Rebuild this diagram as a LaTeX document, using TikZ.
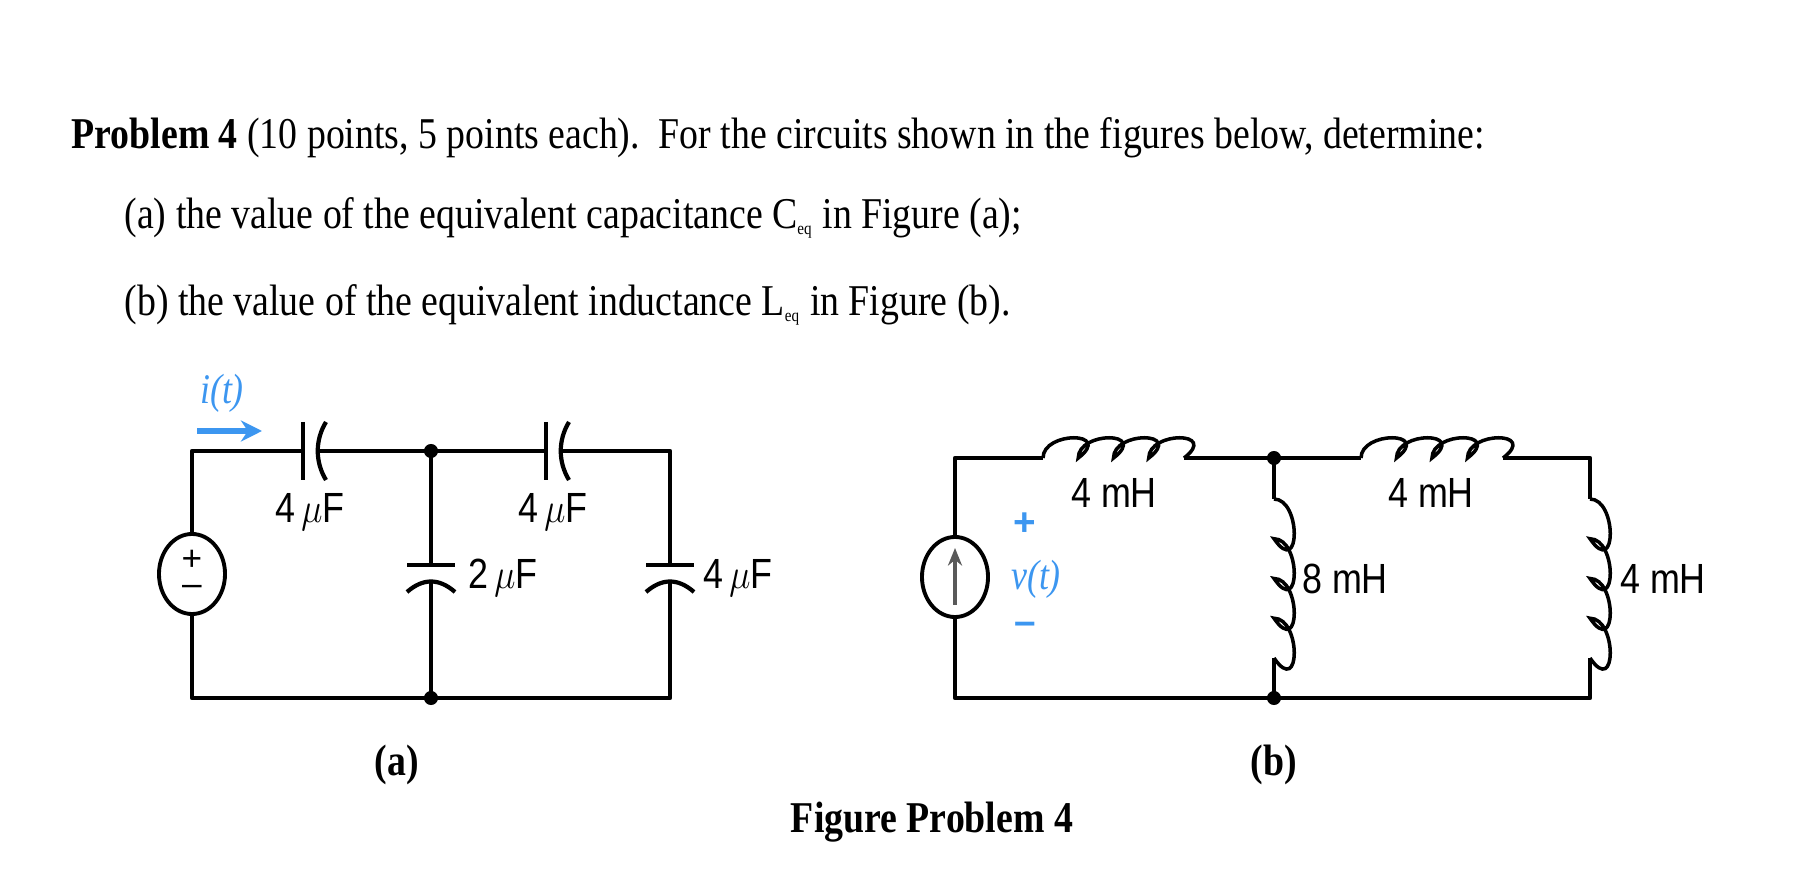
\documentclass[tikz,border=0pt]{standalone}
\usepackage{fontspec}
\setmainfont{Liberation Serif}
\newfontfamily\lsans{Liberation Sans}
\usetikzlibrary{arrows.meta,shapes.geometric}
\definecolor{iblue}{RGB}{60,150,240}
\begin{document}
\begin{tikzpicture}[x=0.01cm,y=-0.01cm,
  wire/.style={line width=1.2pt,line join=round},
  dot/.style={circle,fill=black,inner sep=0pt,minimum size=4pt},
  lab/.style={font=\lsans\fontsize{12}{12}\selectfont,xscale=0.85,inner sep=0pt},
  txt/.style={font=\fontsize{12.5}{14}\selectfont,inner sep=0pt,anchor=west,xscale=0.86},
  src/.style={draw,ellipse,line width=1.1pt,inner sep=0pt,minimum width=0.66cm,minimum height=0.80cm},
  cur/.style={iblue}]
\useasboundingbox (0,0) rectangle (1804,880);
% ---------- text ----------
\node[txt] (t1) at (71,138) {\textbf{Problem 4} (10 points, 5 points each).\ \ For the circuits shown in the figures below, determine:};
\node[txt] (t2) at (124,218) {(a) the value of the equivalent capacitance C\textsubscript{\tiny eq} in Figure (a);};
\node[txt] (t3) at (124,305) {(b) the value of the equivalent inductance L\textsubscript{\tiny eq} in Figure (b).};
\node[font=\fontsize{12.5}{14}\selectfont\bfseries,xscale=0.86] (ca) at (397,765) {(a)};
\node[font=\fontsize{12.5}{14}\selectfont\bfseries,xscale=0.86] (cb) at (1274,765) {(b)};
\node[font=\fontsize{12.5}{14}\selectfont\bfseries,xscale=0.86] (cap) at (932,822) {Figure Problem 4};
% ---------- circuit (a) ----------
\coordinate (aTL) at (192,451); \coordinate (aBL) at (192,698);
\coordinate (aTM) at (431,451); \coordinate (aBM) at (431,698);
\coordinate (aTR) at (670,451); \coordinate (aBR) at (670,698);
\node[src] (vs) at (192,574) {};
\node[font=\lsans\fontsize{10}{10}\selectfont] at (192,560) {+};
\node[font=\lsans\fontsize{10}{10}\selectfont] at (192,590) {\textendash};
\draw[wire] (vs.north) -- (aTL) -- (303,451);
\draw[wire] (303,422) -- (303,480);
\draw[wire] (326,422) .. controls (315,440) and (315,462) .. (326,480);
\draw[wire] (319,451) -- (aTM) -- (546,451);
\draw[wire] (546,422) -- (546,480);
\draw[wire] (569,422) .. controls (558,440) and (558,462) .. (569,480);
\draw[wire] (562,451) -- (aTR) -- (670,565);
\draw[wire] (646,565) -- (694,565);
\draw[wire] (646,592) .. controls (662,578) and (678,578) .. (694,592);
\draw[wire] (670,583) -- (aBR) -- (aBL) -- (vs.south);
\draw[wire] (aTM) -- (431,565);
\draw[wire] (407,565) -- (455,565);
\draw[wire] (407,592) .. controls (423,578) and (439,578) .. (455,592);
\draw[wire] (431,583) -- (aBM);
\node[dot] at (aTM) {}; \node[dot] at (aBM) {};
\node[lab] at (310,512) {4\,$\mu$F};
\node[lab] at (553,512) {4\,$\mu$F};
\node[lab] at (503,578) {2\,$\mu$F};
\node[lab] at (738,578) {4\,$\mu$F};
\node[cur,font=\fontsize{12}{12}\selectfont\itshape,xscale=0.85] (it) at (222,393) {i(t)};
\coordinate (ia) at (197,431); \coordinate (ib) at (262,431);
\draw[cur,line width=1.6pt,-{Stealth[length=6pt,width=6pt]}] (ia) -- (ib);
% ---------- circuit (b) ----------
\coordinate (bTL) at (955,458); \coordinate (bBL) at (955,698);
\coordinate (bTM) at (1274,458); \coordinate (bBM) at (1274,698);
\coordinate (bTR) at (1590,458); \coordinate (bBR) at (1590,698);
\node[src] (is) at (955,577) {};
\draw[gray!70!black,line width=1pt,-{Stealth[length=5pt,width=4pt]}] (955,605) -- (955,548);
\draw[wire] (is.north) -- (bTL) -- (1043,458);
\draw[line width=1pt] (1043,458) foreach \k in {0,...,3} { .. controls ++(0,-27) and ++(35.25,-27) .. ++(35.25,0) };
\draw[wire] (1184,458) -- (bTM) -- (1361,458);
\draw[line width=1pt] (1361,458) foreach \k in {0,...,3} { .. controls ++(0,-27) and ++(35.5,-27) .. ++(35.5,0) };
\draw[wire] (1503,458) -- (bTR) -- (1590,499);
\draw[line width=1pt] (1590,499) foreach \k in {0,...,3} { .. controls ++(27,0) and ++(27,39.75) .. ++(0,39.75) };
\draw[wire] (1590,658) -- (bBR) -- (bBL) -- (is.south);
\draw[wire] (bTM) -- (1274,499);
\draw[line width=1pt] (1274,499) foreach \k in {0,...,3} { .. controls ++(27,0) and ++(27,39.75) .. ++(0,39.75) };
\draw[wire] (1274,658) -- (bBM);
\node[dot] at (bTM) {}; \node[dot] at (bBM) {};
\node[lab] at (1114,493) {4 mH};
\node[lab] at (1431,493) {4 mH};
\node[lab] at (1345,579) {8 mH};
\node[lab] at (1663,579) {4 mH};
\node[cur,font=\lsans\bfseries\fontsize{11}{11}\selectfont] at (1025,524) {+};
\node[cur,font=\fontsize{12}{12}\selectfont\itshape,xscale=0.85] at (1036,579) {v(t)};
\node[cur,font=\lsans\bfseries\fontsize{11}{11}\selectfont] at (1025,628) {\textendash};
\end{tikzpicture}
\end{document}
